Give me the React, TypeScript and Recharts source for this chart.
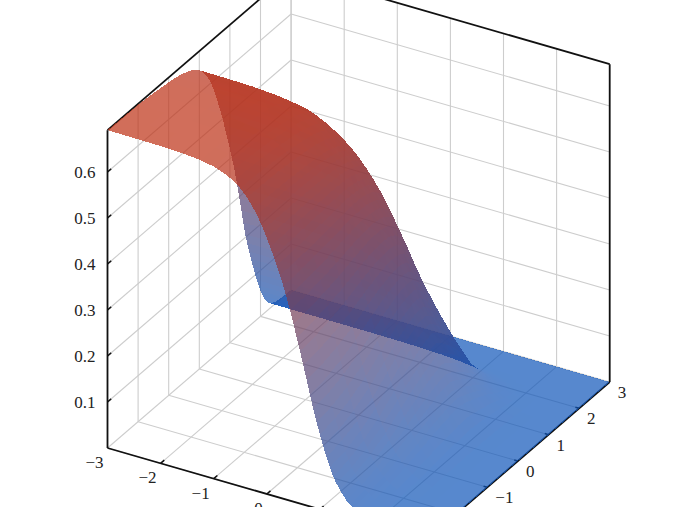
import { ReferenceLine, Scatter, ScatterChart, XAxis, YAxis } from "recharts";

const xValues = [-3, -2.5, -2, -1.5, -1.25, -1, -0.875, -0.75, -0.625, -0.5, -0.375,
  -0.25, -0.1875, -0.125, -0.0625, 0, 0.0625, 0.125, 0.1875, 0.25, 0.3125, 0.375, 0.4375, 0.5, 0.5625, 0.625, 0.6875, 0.75, 0.8125, 0.875, 0.9375, 1,
  1.0625, 1.125, 1.1875, 1.25, 1.3125, 1.375, 1.4375, 1.5, 1.5625, 1.625, 1.6875, 1.75, 1.875, 2, 2.25, 2.5, 3];
// drop along x, read on the front edge of the sheet (y = -3)
const xFront = [1, 0.999, 0.998, 0.994, 0.99, 0.982, 0.975, 0.966, 0.954, 0.938, 0.915,
  0.886, 0.869, 0.85, 0.829, 0.805, 0.781, 0.755, 0.728, 0.7, 0.669, 0.635, 0.599, 0.56, 0.52, 0.48, 0.438, 0.395, 0.352, 0.31, 0.271, 0.235,
  0.201, 0.17, 0.141, 0.115, 0.096, 0.08, 0.065, 0.052, 0.042, 0.034, 0.028, 0.022, 0.014, 0.009, 0.004, 0.002, 0];
// drop along x, read on the right silhouette of the sheet
const xFold = [1, 0.999, 0.997, 0.99, 0.983, 0.974, 0.966, 0.955, 0.942, 0.927, 0.91,
  0.89, 0.878, 0.865, 0.851, 0.836, 0.82, 0.803, 0.785, 0.765, 0.742, 0.718, 0.692, 0.665, 0.635, 0.606, 0.578, 0.55, 0.522, 0.495, 0.467, 0.44,
  0.412, 0.385, 0.358, 0.33, 0.297, 0.265, 0.232, 0.2, 0.173, 0.147, 0.122, 0.1, 0.065, 0.04, 0.012, 0.003, 0];
const yValues = [-3, -2.5, -2, -1.5, -1, -0.75, -0.625, -0.5, -0.375, -0.25, -0.1875, -0.125, -0.0625, 0, 0.0625, 0.125, 0.1875,
  0.25, 0.3125, 0.375, 0.4375, 0.5, 0.5625, 0.625, 0.6875, 0.75, 0.8125, 0.875, 0.9375, 1, 1.0625, 1.125, 1.1875, 1.25, 1.3125, 1.375, 1.4375, 1.5,
  1.5625, 1.625, 1.6875, 1.75, 1.8125, 1.875, 1.9375, 2, 2.0625, 2.125, 2.1875, 2.25, 2.375, 2.5, 2.75, 3];
const yProfile = [1, 0.999, 0.997, 0.992, 0.985, 0.98, 0.977, 0.972, 0.967, 0.96, 0.955, 0.95, 0.945, 0.94, 0.932, 0.922, 0.912,
  0.9, 0.886, 0.87, 0.851, 0.83, 0.806, 0.78, 0.755, 0.73, 0.7, 0.67, 0.64, 0.61, 0.578, 0.545, 0.508, 0.47, 0.428, 0.385, 0.342, 0.3,
  0.267, 0.235, 0.207, 0.18, 0.152, 0.125, 0.102, 0.08, 0.061, 0.045, 0.032, 0.022, 0.011, 0.005, 0.001, 0];
// how far each y row has moved from xFront to xFold; rows after these use xFold
const foldShare = [0, 0.05, 0.15, 0.3, 0.5, 0.6, 0.65, 0.7, 0.75, 0.8, 0.825, 0.85, 0.875, 0.9, 0.925, 0.95, 0.975];
const zPeak = 0.691;

const xTicks = [-3, -2, -1, 0, 1, 2, 3];
const yTicks = [-3, -2, -1, 0, 1, 2, 3];
const zTicks = [0.1, 0.2, 0.3, 0.4, 0.5, 0.6];

const WIDTH = 688;
const HEIGHT = 507;
const FONT = "'Liberation Serif', serif";
const HIGH = [190, 48, 20];
const LOW = [15, 85, 185];

// fixed view of the box, in page pixels per data unit
function project(x: number, y: number, z: number) {
  return {
    h: 107.5 + 53.1 * (x + 3) + 30.6 * (y + 3),
    v: HEIGHT - (448 + 15.33 * (x + 3) - 26.33 * (y + 3) - 460 * z),
  };
}

function seg(a: number[], b: number[]) {
  const p = project(a[0], a[1], a[2]);
  const q = project(b[0], b[1], b[2]);
  return [{ x: p.h, y: p.v }, { x: q.h, y: q.v }] as any;
}

function tickText(label: string) {
  return label.replace("-", "\u2212");
}

function share(i: number, j: number) {
  const w = foldShare[j] ?? 1;
  return (xFront[i] * (1 - w) + xFold[i] * w) * yProfile[j];
}

const surfacePoints = yValues.flatMap((y, j) =>
  xValues.map((x, i) => project(x, y, zPeak * share(i, j)))
);

function surfaceColor(t: number) {
  const c = HIGH.map((v, k) => Math.round(LOW[k] + (v - LOW[k]) * t));
  return `rgb(${c[0]},${c[1]},${c[2]})`;
}

function SurfaceMesh({ points }: any) {
  const nx = xValues.length;
  const cells = [];
  for (let j = yValues.length - 2; j >= 0; j--) {
    for (let i = 0; i < nx - 1; i++) {
      const a = points[j * nx + i];
      const b = points[j * nx + i + 1];
      const c = points[(j + 1) * nx + i + 1];
      const d = points[(j + 1) * nx + i];
      const t = (share(i, j) + share(i + 1, j) + share(i, j + 1) + share(i + 1, j + 1)) / 4;
      cells.push(
        <polygon
          key={`${i}-${j}`}
          points={`${a.x},${a.y} ${b.x},${b.y} ${c.x},${c.y} ${d.x},${d.y}`}
          fill={surfaceColor(t)}
          fillOpacity={0.7}
          stroke="none"
          shapeRendering="crispEdges"
        />
      );
    }
  }
  return <g>{cells}</g>;
}

function NoDot() {
  return <g />;
}

function ZLabel({ cx, cy, payload }: any) {
  return (
    <text x={cx - 12} y={cy + 6} textAnchor="end" fontFamily={FONT} fontSize={17} fill="#222">
      {payload.label}
    </text>
  );
}

function XLabel({ cx, cy, payload }: any) {
  return (
    <text x={cx - 4} y={cy + 20} textAnchor="end" fontFamily={FONT} fontSize={17} fill="#222">
      {payload.label}
    </text>
  );
}

function YLabel({ cx, cy, payload }: any) {
  return (
    <text x={cx + 8} y={cy + 16} textAnchor="start" fontFamily={FONT} fontSize={17} fill="#222">
      {payload.label}
    </text>
  );
}

const zLabels = zTicks.map((z) => ({ ...project(-3, -3, z), label: z.toFixed(1) }));
const xLabels = xTicks.slice(0, 4).map((x) => ({ ...project(x, -3, 0), label: tickText(String(x)) }));
const yLabels = yTicks.slice(2).map((y) => ({ ...project(3, y, 0), label: tickText(String(y)) }));

const gridSegments = [
  ...xTicks.flatMap((x) => [
    seg([x, -3, 0], [x, 3, 0]),
    seg([x, 3, 0], [x, 3, zPeak]),
  ]),
  ...yTicks.flatMap((y) => [
    seg([-3, y, 0], [3, y, 0]),
    seg([-3, y, 0], [-3, y, zPeak]),
  ]),
  ...zTicks.flatMap((z) => [
    seg([-3, -3, z], [-3, 3, z]),
    seg([-3, 3, z], [3, 3, z]),
  ]),
];

const frameSegments = [
  seg([-3, -3, 0], [-3, -3, zPeak]),
  seg([3, 3, 0], [3, 3, zPeak]),
  seg([-3, -3, 0], [3, -3, 0]),
  seg([3, -3, 0], [3, 3, 0]),
  seg([-3, -3, zPeak], [-3, 3, zPeak]),
  seg([-3, 3, zPeak], [3, 3, zPeak]),
];

const tickSegments = [
  ...zTicks.map((z) => seg([-3, -3, z], [-3, -2.88, z])),
  ...xTicks.slice(1).map((x) => seg([x, -3, 0], [x, -2.88, 0])),
  ...yTicks.slice(0, -1).map((y) => seg([3, y, 0], [2.93, y, 0])),
];

export default function App() {
  return (
    <div style={{ position: "fixed", left: 0, top: 0, width: WIDTH, height: HEIGHT, overflow: "hidden", background: "#fff" }}>
      <ScatterChart width={WIDTH} height={HEIGHT} margin={{ top: 0, right: 0, bottom: 0, left: 0 }}>
        <XAxis type="number" dataKey="h" domain={[0, WIDTH]} allowDataOverflow hide />
        <YAxis type="number" dataKey="v" domain={[0, HEIGHT]} allowDataOverflow hide />
        {gridSegments.map((s, i) => (
          <ReferenceLine key={`g${i}`} segment={s} ifOverflow="visible" stroke="#cdcdcd" strokeWidth={1.1} />
        ))}
        {frameSegments.map((s, i) => (
          <ReferenceLine key={`f${i}`} segment={s} ifOverflow="visible" stroke="#111" strokeWidth={1.8} />
        ))}
        {tickSegments.map((s, i) => (
          <ReferenceLine key={`t${i}`} segment={s} ifOverflow="visible" stroke="#111" strokeWidth={1.5} />
        ))}
        <Scatter data={surfacePoints} shape={NoDot} line={SurfaceMesh} isAnimationActive={false} />
        <Scatter data={zLabels} shape={ZLabel} isAnimationActive={false} />
        <Scatter data={xLabels} shape={XLabel} isAnimationActive={false} />
        <Scatter data={yLabels} shape={YLabel} isAnimationActive={false} />
      </ScatterChart>
    </div>
  );
}
